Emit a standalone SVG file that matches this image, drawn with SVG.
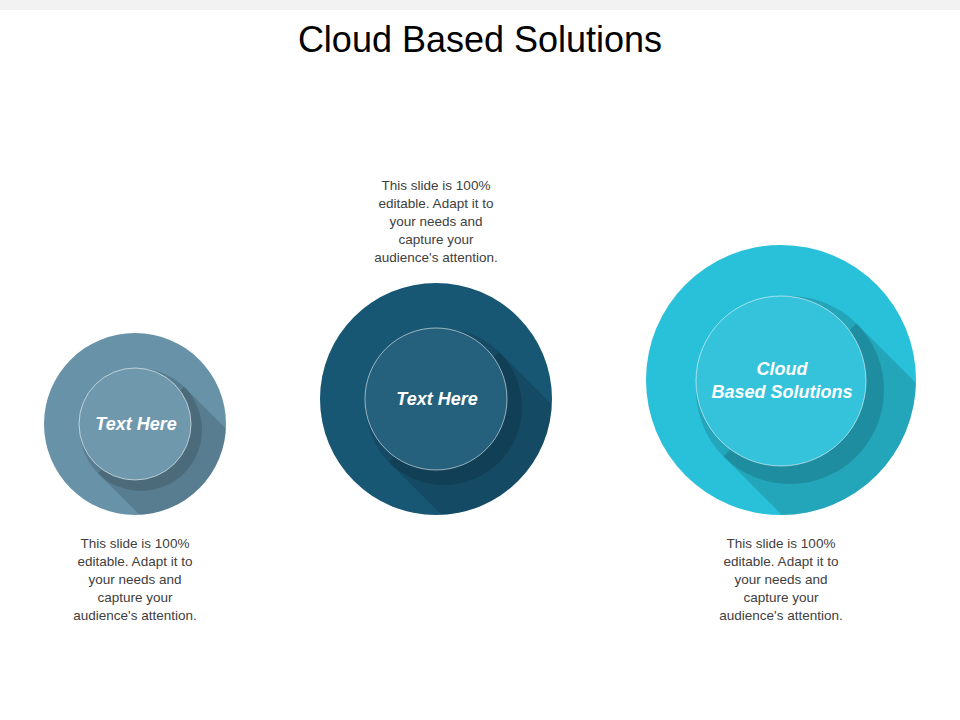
<svg xmlns="http://www.w3.org/2000/svg" width="960" height="720" viewBox="0 0 960 720">
<style>
.t{font-family:"Liberation Sans",Arial,sans-serif;font-size:13.5px;fill:#404040;text-anchor:middle}
.h{font-family:"Liberation Sans",Arial,sans-serif;font-size:18px;font-weight:bold;font-style:italic;fill:#fff;text-anchor:middle}
.in{fill:#fff;fill-opacity:0.06;stroke:#fff;stroke-opacity:0.55;stroke-width:1}
.sh{fill:#000;fill-opacity:0.14}
</style>
<defs>
<clipPath id="c1"><circle cx="135" cy="424" r="91"/></clipPath>
<clipPath id="c2"><circle cx="436" cy="399" r="116"/></clipPath>
<clipPath id="c3"><circle cx="781" cy="380" r="135"/></clipPath>
</defs>
<rect x="0" y="0" width="960" height="10" fill="#f2f2f2"/>
<text x="480" y="52" font-family="Liberation Sans,Arial,sans-serif" font-size="36" fill="#000" text-anchor="middle">Cloud Based Solutions</text>
<g id="node-left">
<circle cx="135" cy="424" r="91" fill="#6792a8"/>
<g clip-path="url(#c1)"><circle class="sh" cx="141" cy="430" r="61"/><rect class="sh" x="80" y="430" width="122" height="300" transform="rotate(-45 141 430)"/></g>
<circle cx="135" cy="424" r="56" fill="#6792a8"/>
<circle class="in" cx="135" cy="424" r="56"/>
<text class="h" x="136" y="430">Text Here</text>
</g>
<g id="node-mid">
<circle cx="436" cy="399" r="116" fill="#185774"/>
<g clip-path="url(#c2)"><circle class="sh" cx="444" cy="407" r="78"/><rect class="sh" x="366" y="407" width="156" height="300" transform="rotate(-45 444 407)"/></g>
<circle cx="436" cy="399" r="71" fill="#185774"/>
<circle class="in" cx="436" cy="399" r="71"/>
<text class="h" x="437" y="405">Text Here</text>
</g>
<g id="node-right">
<circle cx="781" cy="380" r="135" fill="#29c0d9"/>
<g clip-path="url(#c3)"><circle class="sh" cx="790" cy="390" r="94"/><rect class="sh" x="696" y="390" width="188" height="300" transform="rotate(-45 790 390)"/></g>
<circle cx="781" cy="381" r="85" fill="#29c0d9"/>
<circle class="in" cx="781" cy="381" r="85"/>
<text class="h" x="782" y="375">Cloud</text>
<text class="h" x="782" y="398">Based Solutions</text>
</g>
<g id="texts">
<text class="t" x="135" y="548">This slide is 100%<tspan x="135" dy="18">editable. Adapt it to</tspan><tspan x="135" dy="18">your needs and</tspan><tspan x="135" dy="18">capture your</tspan><tspan x="135" dy="18">audience's attention.</tspan></text>
<text class="t" x="436" y="190">This slide is 100%<tspan x="436" dy="18">editable. Adapt it to</tspan><tspan x="436" dy="18">your needs and</tspan><tspan x="436" dy="18">capture your</tspan><tspan x="436" dy="18">audience's attention.</tspan></text>
<text class="t" x="781" y="548">This slide is 100%<tspan x="781" dy="18">editable. Adapt it to</tspan><tspan x="781" dy="18">your needs and</tspan><tspan x="781" dy="18">capture your</tspan><tspan x="781" dy="18">audience's attention.</tspan></text>
</g>
<g id="connectors"/>
</svg>
